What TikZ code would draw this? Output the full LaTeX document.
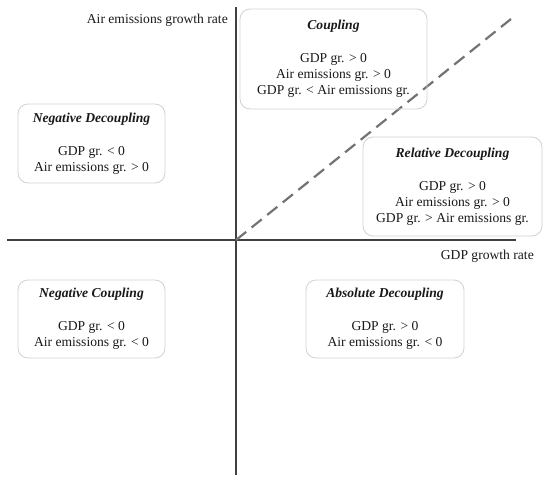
\documentclass[tikz,border=0pt]{standalone}
\usepackage{fontspec}
\setmainfont{Liberation Serif}
\begin{document}
\begin{tikzpicture}[x=1pt,y=-1pt,
  quad/.style={draw=black!18, line width=0.8pt, rounded corners=10pt, align=center,
    inner sep=0pt, font=\fontsize{13.6}{16}\selectfont, text=black!90},
  axis/.style={draw=black!75, line width=1.1pt},
  diag/.style={draw=black!55, line width=2.2pt, dash pattern=on 13pt off 7pt},
  lbl/.style={font=\fontsize{13.6}{16}\selectfont, inner sep=0pt, text=black!90}]
\useasboundingbox (0,0) rectangle (550,480);
\coordinate (ytop) at (236,7);
\coordinate (ybot) at (236,475);
\coordinate (xl) at (7,240);
\coordinate (xr) at (516,240);
\coordinate (o) at (236,240);
\coordinate (dend) at (511,19);
\draw[axis] (ytop) -- (ybot);
\draw[axis] (xl) -- (xr);
\draw[diag] (o) -- (dend);
\node[lbl, anchor=east] (ylab) at (228,20) {Air emissions growth rate};
\node[lbl, anchor=east] (xlab) at (534,256) {GDP growth rate};
\node[quad, minimum width=187pt, minimum height=100pt] (coup) at (333.5,59)
  {\textbf{\textit{Coupling}}\\[17pt]GDP gr. > 0\\Air emissions gr. > 0\\GDP gr. < Air emissions gr.};
\node[quad, minimum width=147pt, minimum height=79pt] (negdec) at (91.5,143.5)
  {\textbf{\textit{Negative Decoupling}}\\[17pt]GDP gr. < 0\\Air emissions gr. > 0};
\node[quad, fill=white, minimum width=179pt, minimum height=99pt] (reldec) at (452.5,186.5)
  {\textbf{\textit{Relative Decoupling}}\\[17pt]GDP gr. > 0\\Air emissions gr. > 0\\GDP gr. > Air emissions gr.};
\node[quad, minimum width=147pt, minimum height=78pt] (negcoup) at (91.5,319)
  {\textbf{\textit{Negative Coupling}}\\[17pt]GDP gr. < 0\\Air emissions gr. < 0};
\node[quad, minimum width=158pt, minimum height=78pt] (absdec) at (385,319)
  {\textbf{\textit{Absolute Decoupling}}\\[17pt]GDP gr. > 0\\Air emissions gr. < 0};
\end{tikzpicture}
\end{document}
